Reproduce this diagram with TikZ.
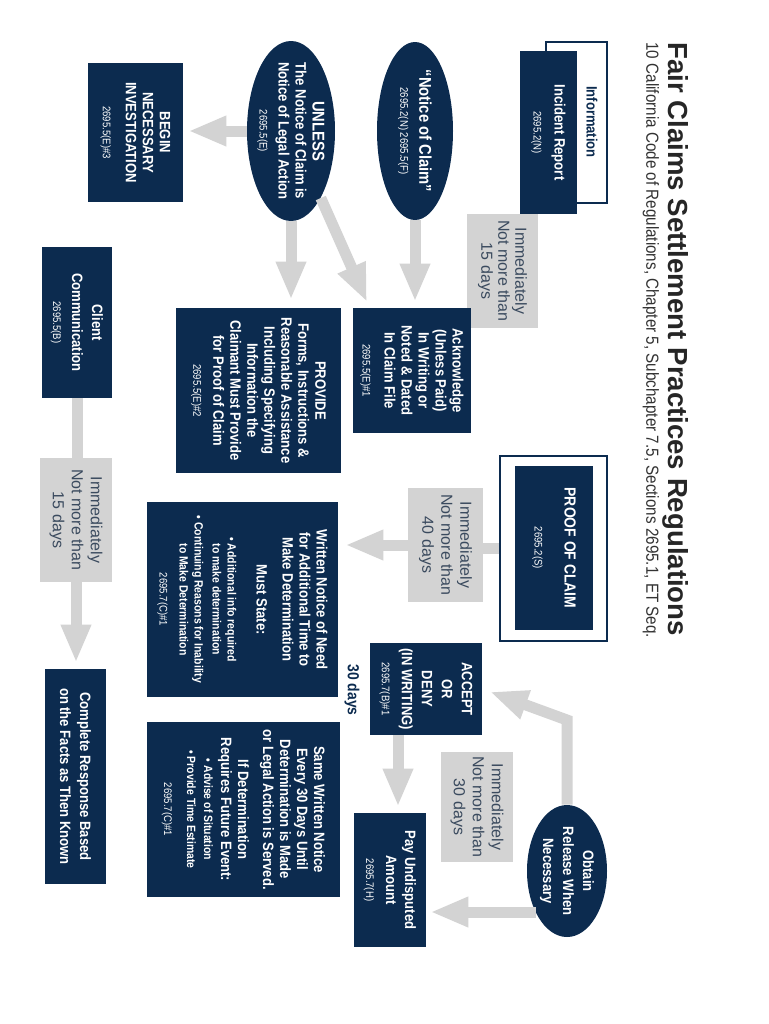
\documentclass[tikz,border=0pt]{standalone}
\usepackage{fontspec}
\setmainfont{Liberation Sans}
\newfontfamily\narrowfont{Liberation Sans}[FakeStretch=0.87]
\usetikzlibrary{positioning,arrows.meta,shapes.geometric}

\definecolor{navy}{HTML}{0C2B4F}
\definecolor{flowgray}{HTML}{D3D3D3}
\definecolor{slate}{HTML}{3A4A5E}

\newcommand{\refno}[1]{{\narrowfont\mdseries\fontsize{5.5}{6.5}\selectfont #1}}
\newcommand{\smallpt}[1]{{\fontsize{6}{7}\selectfont #1}}

\begin{document}
\begin{tikzpicture}[x=0.5pt,y=-0.5pt,
    navybox/.style={rectangle, fill=navy, text=white, rotate=-90, align=center,
        inner sep=0pt, font=\narrowfont\bfseries\fontsize{7.5}{8.5}\selectfont},
    navyoval/.style={ellipse, fill=navy, inner sep=0pt, rotate=-90},
    ovaltext/.style={text=white, rotate=-90, align=center, inner sep=0pt,
        font=\narrowfont\bfseries\fontsize{7.5}{8.5}\selectfont},
    graybox/.style={rectangle, fill=flowgray, text=slate, rotate=-90, align=center,
        inner sep=0pt, font=\fontsize{8}{9.5}\selectfont},
    framebox/.style={rectangle, draw=navy, line width=1pt, rotate=-90},
    shaft/.style={draw=flowgray, line width=5.5pt},
    bigarrow/.style={shaft, -{Triangle[length=19pt,width=14pt]}},
]
\useasboundingbox (0,0) rectangle (768,1024);

% heading
\node[rotate=-90, anchor=west, inner sep=0pt, text=black!85,
    font=\bfseries\fontsize{13.8}{16}\selectfont] (title) at (676,42)
    {Fair Claims Settlement Practices Regulations};
\node[rotate=-90, anchor=west, inner sep=0pt, text=black!80,
    font=\narrowfont\fontsize{8.75}{10}\selectfont] (subtitle) at (651,42)
    {10 California Code of Regulations, Chapter 5, Subchapter 7.5, Sections 2695.1, ET Seq.};

% first notice
\node[framebox, minimum width=80.5pt, minimum height=30.5pt] (infoframe) at (576.5,122.5) {};
\node[rotate=-90, inner sep=0pt, text=navy, font=\narrowfont\bfseries\fontsize{7.5}{8.5}\selectfont]
    (infotext) at (592,122) {Information};
\node[navybox, minimum width=81.5pt, minimum height=28.5pt] (incident) at (548.5,132.5)
    {Incident Report\\[2pt]\refno{2695.2(N)}};
\node[graybox, minimum width=57pt, minimum height=35.5pt, font=\fontsize{8}{8.5}\selectfont]
    (gray15a) at (502.5,271) {Immediately\\Not more than\\15 days};

\node[navyoval, minimum width=89pt, minimum height=38pt] (notice) at (415,131) {};
\node[ovaltext] (noticetext) at (notice)
    {{\fontsize{8.5}{9.5}\selectfont “Notice of Claim”}\\[1pt]\refno{2695.2(N) 2695.5(F)}};
\node[navyoval, minimum width=90pt, minimum height=44pt] (unless) at (291,131) {};
\node[ovaltext] (unlesstext) at (unless)
    {{\fontsize{8.5}{9.5}\selectfont UNLESS}\\The Notice of Claim is\\Notice of Legal Action\\[1pt]\refno{2695.5(E)}};
\node[navybox, minimum width=69.5pt, minimum height=47.5pt] (begin) at (135.5,132.5)
    {BEGIN\\NECESSARY\\INVESTIGATION\\[3pt]\refno{2695.5(E)\#3}};

\node[navybox, minimum width=62.5pt, minimum height=59pt] (ack) at (412,370.5)
    {Acknowledge\\(Unless Paid)\\In Writing or\\Noted \& Dated\\In Claim File\\[2.5pt]\refno{2695.5(E)\#1}};
\node[navybox, minimum width=82.5pt, minimum height=82.5pt] (provide) at (258.5,390.5)
    {PROVIDE\\Forms, Instructions \&\\Reasonable Assistance\\Including Specifying\\Information the\\Claimant Must Provide\\for Proof of Claim\\[1.5pt]\refno{2695.5(E)\#2}};

% client side
\node[navybox, minimum width=75.5pt, minimum height=35pt] (client) at (77,322.5)
    {Client\\[1.5pt]Communication\\[1pt]\refno{2695.5(B)}};
\node[graybox, minimum width=62pt, minimum height=36pt] (gray15b) at (76,520)
    {Immediately\\Not more than\\15 days};
\node[navybox, minimum width=107.5pt, minimum height=30.5pt] (complete) at (75.5,776.5)
    {Complete Response Based\\[1.5pt]on the Facts as Then Known};

% proof of claim
\node[framebox, minimum width=92.5pt, minimum height=53.5pt] (proofframe) at (553.5,548) {};
\node[navybox, minimum width=82pt, minimum height=39pt,
    font=\narrowfont\bfseries\fontsize{8}{9}\selectfont] (proof) at (554,548)
    {PROOF OF CLAIM\\[6pt]\refno{2695.2(S)}};
\node[graybox, minimum width=57pt, minimum height=37.5pt] (gray40) at (445.5,545)
    {Immediately\\Not more than\\40 days};
\node[navybox, minimum width=97.5pt, minimum height=95.5pt] (written) at (242.5,599.5)
    {Written Notice of Need\\for Additional Time to\\Make Determination\\[4.5pt]Must State:\\[6pt]%
     \smallpt{\textbullet\ Additional info required}\\[-1pt]\smallpt{to make determination}\\[0.5pt]%
     \smallpt{\textbullet\ Continuing Reasons for Inability}\\[-1pt]\smallpt{to Make Determination}\\[1.5pt]%
     \refno{2695.7(C)\#1}};
\node[rotate=-90, inner sep=0pt, text=navy, font=\narrowfont\bfseries\fontsize{8}{9}\selectfont]
    (thirty) at (352,690) {30 days};

% decision
\node[navybox, minimum width=46pt, minimum height=56pt] (accept) at (426,689)
    {ACCEPT\\[1.5pt]OR\\[1.5pt]DENY\\[1.5pt](IN WRITING)\\[1.5pt]\refno{2695.7(B)\#1}};
\node[graybox, minimum width=55pt, minimum height=36pt] (gray30) at (477,807)
    {Immediately\\Not more than\\30 days};
\node[navyoval, minimum width=66pt, minimum height=40pt] (obtain) at (567,871) {};
\node[ovaltext] (obtaintext) at (obtain) {Obtain\\[1.5pt]Release When\\[1.5pt]Necessary};
\node[navybox, minimum width=67pt, minimum height=36pt] (pay) at (390,880)
    {Pay Undisputed\\[1pt]Amount\\[1.5pt]\refno{2695.7(H)}};
\node[navybox, minimum width=87.5pt, minimum height=96.5pt] (same) at (243.5,809.5)
    {Same Written Notice\\Every 30 Days Until\\Determination is Made\\or Legal Action is Served.\\[4pt]%
     If Determination\\Requires Future Event:\\%
     \smallpt{\textbullet\ Advise of Situation}\\\smallpt{\textbullet\ Provide Time Estimate}\\[3pt]%
     \refno{2695.7(C)\#1}};

% connectors
\draw[bigarrow, shorten >=2.5pt] (unless.south) -- (unless.south -| begin.north);
\draw[bigarrow, shorten >=4pt] (unless.east) -- (unless.east |- provide.west);
\coordinate (ackin) at (367,302);
\draw[bigarrow] (unless) -- (ackin);
\draw[bigarrow, shorten >=3pt] (notice.east) -- (notice.east |- ack.west);
\draw[shaft] (client.east) -- (client.east |- gray15b.west);
\draw[bigarrow, shorten >=3pt] (gray15b.east) -- (gray15b.east |- complete.west);
\draw[shaft] (proofframe.south) -- (proofframe.south -| gray40.north);
\draw[bigarrow, shorten >=3.5pt] (gray40.south) -- (gray40.south -| written.north);
\coordinate (acceptout) at ([xshift=-14pt]accept.east);
\draw[bigarrow, shorten >=3pt] (acceptout) -- (acceptout |- pay.west);
\coordinate (obtainbend) at (567,720);
\draw[bigarrow, shorten >=4pt] (obtain.west) -- (obtainbend) -- (accept.north);
\coordinate (obtainout) at (536,912);
\draw[bigarrow, shorten >=2pt] (obtainout) -- (obtainout -| pay.north);
\end{tikzpicture}
\end{document}
